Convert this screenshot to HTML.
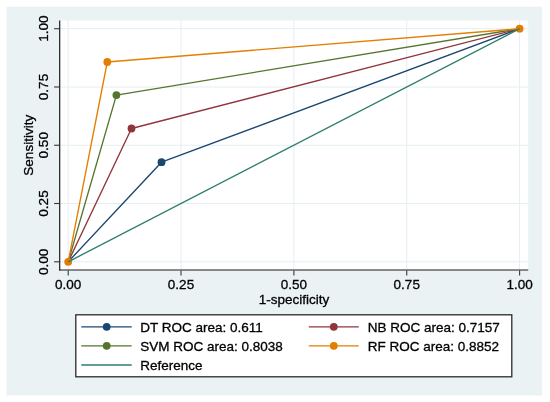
<!DOCTYPE html>
<html>
<head>
<meta charset="utf-8">
<title>ROC curves</title>
<style>
html,body{margin:0;padding:0;background:#ffffff;}
body{width:550px;height:402px;overflow:hidden;}
svg{display:block;}
text{font-family:"Liberation Sans",sans-serif;font-size:13.5px;fill:#000;stroke:#000;stroke-width:0.3px;}
</style>
</head>
<body>
<svg width="550" height="402" viewBox="0 0 550 402">
  <rect x="0" y="0" width="550" height="402" fill="#ffffff"/>
  <!-- graph region -->
  <rect x="6.5" y="6.7" width="535.6" height="388.8" fill="#eaf2f3"/>
  <!-- plot region -->
  <rect x="60" y="20.5" width="468.2" height="249.5" fill="#ffffff"/>
  <!-- grid -->
  <g stroke="#e4eff1" stroke-width="1" fill="none">
    <line x1="60" x2="528.2" y1="28.7" y2="28.7"/>
    <line x1="60" x2="528.2" y1="87" y2="87"/>
    <line x1="60" x2="528.2" y1="145.25" y2="145.25"/>
    <line x1="60" x2="528.2" y1="203.5" y2="203.5"/>
    <line x1="60" x2="528.2" y1="261.8" y2="261.8"/>
    <line y1="20.5" y2="270" x1="68.2" x2="68.2"/>
    <line y1="20.5" y2="270" x1="181" x2="181"/>
    <line y1="20.5" y2="270" x1="293.9" x2="293.9"/>
    <line y1="20.5" y2="270" x1="406.75" x2="406.75"/>
    <line y1="20.5" y2="270" x1="519.6" x2="519.6"/>
  </g>
  <!-- axes -->
  <g stroke="#1c1c1c" stroke-width="1.2" fill="none">
    <line x1="59.7" x2="59.7" y1="20.5" y2="270.6"/>
    <line x1="59.1" x2="528.2" y1="270" y2="270"/>
  </g>
  <g stroke="#383838" stroke-width="1.1" fill="none">
    <line x1="54.1" x2="59.2" y1="28.7" y2="28.7"/>
    <line x1="54.1" x2="59.2" y1="87" y2="87"/>
    <line x1="54.1" x2="59.2" y1="145.25" y2="145.25"/>
    <line x1="54.1" x2="59.2" y1="203.5" y2="203.5"/>
    <line x1="54.1" x2="59.2" y1="261.8" y2="261.8"/>
    <line y1="270.5" y2="275.4" x1="68.2" x2="68.2"/>
    <line y1="270.5" y2="275.4" x1="181" x2="181"/>
    <line y1="270.5" y2="275.4" x1="293.9" x2="293.9"/>
    <line y1="270.5" y2="275.4" x1="406.75" x2="406.75"/>
    <line y1="270.5" y2="275.4" x1="519.6" x2="519.6"/>
  </g>
  <!-- series -->
  <g fill="none" stroke-width="1.35" stroke-linejoin="round">
    <polyline stroke="#1a476f" points="68.2,261.8 161.5,162.2 519.6,28.7"/>
    <polyline stroke="#90353b" points="68.2,261.8 131.5,128.5 519.6,28.7"/>
    <polyline stroke="#55752f" points="68.2,261.8 116.4,95.1 519.6,28.7"/>
    <polyline stroke="#e37e00" points="68.2,261.8 107.3,62 519.6,28.7"/>
  </g>
  <g>
    <circle cx="161.5" cy="162.2" r="3.9" fill="#1a476f"/>
    <circle cx="131.5" cy="128.5" r="3.9" fill="#90353b"/>
    <circle cx="116.4" cy="95.1" r="3.9" fill="#55752f"/>
    <circle cx="107.3" cy="62" r="3.9" fill="#e37e00"/>
    <circle cx="68.2" cy="261.8" r="3.9" fill="#e37e00"/>
    <circle cx="519.6" cy="28.7" r="3.9" fill="#e37e00"/>
  </g>
  <polyline fill="none" stroke="#2e7d6e" stroke-width="1.35" points="68.2,261.8 519.6,28.7"/>
  <!-- x labels -->
  <g text-anchor="middle">
    <text x="68.2" y="289.3">0.00</text>
    <text x="181" y="289.3">0.25</text>
    <text x="293.9" y="289.3">0.50</text>
    <text x="406.75" y="289.3">0.75</text>
    <text x="519.6" y="289.3">1.00</text>
    <text x="293.9" y="303.6">1-specificity</text>
  </g>
  <!-- y labels -->
  <g text-anchor="middle">
    <text transform="translate(47.8,28.7) rotate(-90)">1.00</text>
    <text transform="translate(47.8,87) rotate(-90)">0.75</text>
    <text transform="translate(47.8,145.25) rotate(-90)">0.50</text>
    <text transform="translate(47.8,203.5) rotate(-90)">0.25</text>
    <text transform="translate(47.8,261.8) rotate(-90)">0.00</text>
    <text transform="translate(32.7,145.25) rotate(-90)">Sensitivity</text>
  </g>
  <!-- legend -->
  <rect x="75.8" y="314.8" width="436" height="62" fill="#ffffff" stroke="#2a2a2a" stroke-width="1.3"/>
  <g stroke-width="1.35" fill="none">
    <line x1="81.3" x2="131.7" y1="326.8" y2="326.8" stroke="#1a476f"/>
    <line x1="81.3" x2="131.7" y1="345.8" y2="345.8" stroke="#55752f"/>
    <line x1="81.3" x2="131.7" y1="365" y2="365" stroke="#2e7d6e"/>
    <line x1="308.8" x2="358.8" y1="326.8" y2="326.8" stroke="#90353b"/>
    <line x1="308.8" x2="358.8" y1="345.8" y2="345.8" stroke="#e37e00"/>
  </g>
  <circle cx="106.7" cy="326.8" r="3.9" fill="#1a476f"/>
  <circle cx="106.7" cy="345.8" r="3.9" fill="#55752f"/>
  <circle cx="333.8" cy="326.8" r="3.9" fill="#90353b"/>
  <circle cx="333.8" cy="345.8" r="3.9" fill="#e37e00"/>
  <g>
    <text x="140.3" y="331.5">DT ROC area: 0.611</text>
    <text x="140.3" y="351.1">SVM ROC area: 0.8038</text>
    <text x="140.3" y="369.9">Reference</text>
    <text x="367.8" y="331.5">NB ROC area: 0.7157</text>
    <text x="367.8" y="351.1">RF ROC area: 0.8852</text>
  </g>
</svg>
</body>
</html>
